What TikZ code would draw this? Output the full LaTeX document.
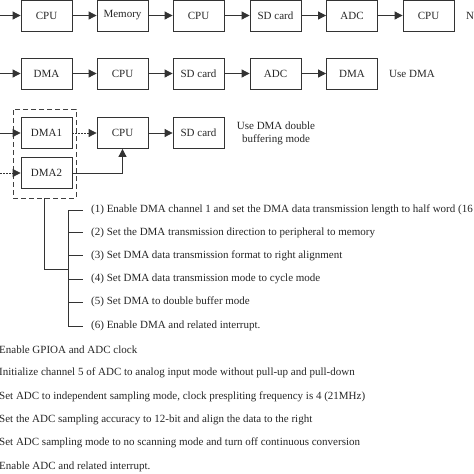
\documentclass[tikz,border=0pt]{standalone}
\usepackage{fontspec}
\setmainfont{Liberation Serif}
\usepackage{tikz}
\usetikzlibrary{arrows.meta}

\begin{document}
\begin{tikzpicture}[x=1pt, y=-1pt,
  font=\fontsize{11}{13}\selectfont,
  box/.style={draw=black!80, line width=0.8pt, minimum width=51pt, minimum height=31pt, inner sep=0pt, text=black!85},
  arr/.style={draw=black!80, line width=0.8pt, -{Triangle[length=8pt,width=8pt]}},
  dotarr/.style={arr, dash pattern=on 1.5pt off 1.5pt},
  item/.style={anchor=west, inner sep=0pt, text=black!85}]
\useasboundingbox (0,0) rectangle (474,474);

% no DMA
\coordinate (inA) at (0,15.5);
\node[box] (cpuA) at (46.5,15.5) {CPU};
\node[box] (mem) at (122.5,15.5) {Memory};
\node[box] (cpuB) at (198.5,15.5) {CPU};
\node[box] (sdA) at (275.5,15.5) {SD card};
\node[box] (adcA) at (352,15.5) {ADC};
\node[box] (cpuC) at (428.5,15.5) {CPU};
\node[item] (noDMA) at (466,15.5) {No DMA};
\draw[arr] (inA) -- (cpuA);
\draw[arr] (cpuA) -- (mem);
\draw[arr] (mem) -- (cpuB);
\draw[arr] (cpuB) -- (sdA);
\draw[arr] (sdA) -- (adcA);
\draw[arr] (adcA) -- (cpuC);

% with DMA
\coordinate (inB) at (0,73.5);
\node[box] (dmaA) at (46.5,73.5) {DMA};
\node[box] (cpuD) at (122.5,73.5) {CPU};
\node[box] (sdB) at (198.5,73.5) {SD card};
\node[box] (adcB) at (275.5,73.5) {ADC};
\node[box] (dmaB) at (352,73.5) {DMA};
\node[item] (useDMA) at (389,73.5) {Use DMA};
\draw[arr] (inB) -- (dmaA);
\draw[arr] (dmaA) -- (cpuD);
\draw[arr] (cpuD) -- (sdB);
\draw[arr] (sdB) -- (adcB);
\draw[arr] (adcB) -- (dmaB);

% double buffering
\node[draw=black!75, line width=0.8pt, dash pattern=on 5pt off 3pt, minimum width=63pt, minimum height=89pt, inner sep=0pt] (grp) at (44.5,153.5) {};
\coordinate (inC) at (0,133);
\coordinate (inD) at (0,173);
\node[box] (dma1) at (46.5,133) {DMA1};
\node[box] (dma2) at (46.5,173) {DMA2};
\node[box] (cpuE) at (122.5,133) {CPU};
\node[box] (sdC) at (198.5,133) {SD card};
\node[align=center, text=black!85] (useDB) at (276,133.5) {Use DMA double\\buffering mode};
\draw[arr] (inC) -- (dma1);
\draw[dotarr] (inD) -- (dma2);
\draw[dotarr] (dma1) -- (cpuE);
\draw[arr] (dma2.east) -| (cpuE.south);
\draw[arr] (cpuE) -- (sdC);

% DMA settings
\coordinate (bus) at (68,269);
\coordinate (b1) at (68,210);
\coordinate (b6) at (68,326);
\draw[black!80, line width=0.8pt] (grp.south) |- (bus);
\draw[black!80, line width=0.8pt] (b1) -- (b6);
\node[item] (s1) at (91,210) {(1) Enable DMA channel 1 and set the DMA data transmission length to half word (16 bits)};
\node[item] (s2) at (91,232.5) {(2) Set the DMA transmission direction to peripheral to memory};
\node[item] (s3) at (91,255.5) {(3) Set DMA data transmission format to right alignment};
\node[item] (s4) at (91,279) {(4) Set DMA data transmission mode to cycle mode};
\node[item] (s5) at (91,302) {(5) Set DMA to double buffer mode};
\node[item] (s6) at (91,326) {(6) Enable DMA and related interrupt.};
\draw[black!80, line width=0.8pt] (b1) -- ([xshift=-8pt]s1.west);
\draw[black!80, line width=0.8pt] (68,232.5) -- ([xshift=-8pt]s2.west);
\draw[black!80, line width=0.8pt] (68,255.5) -- ([xshift=-8pt]s3.west);
\draw[black!80, line width=0.8pt] (68,279) -- ([xshift=-8pt]s4.west);
\draw[black!80, line width=0.8pt] (68,302) -- ([xshift=-8pt]s5.west);
\draw[black!80, line width=0.8pt] (b6) -- ([xshift=-8pt]s6.west);

% ADC settings
\node[item] (a1) at (-1,350) {Enable GPIOA and ADC clock};
\node[item] (a2) at (-1,373) {Initialize channel 5 of ADC to analog input mode without pull-up and pull-down};
\node[item] (a3) at (-1,397) {Set ADC to independent sampling mode, clock prespliting frequency is 4 (21MHz)};
\node[item] (a4) at (-1,420) {Set the ADC sampling accuracy to 12-bit and align the data to the right};
\node[item] (a5) at (-1,443) {Set ADC sampling mode to no scanning mode and turn off continuous conversion};
\node[item] (a6) at (-1,467) {Enable ADC and related interrupt.};
\end{tikzpicture}
\end{document}
